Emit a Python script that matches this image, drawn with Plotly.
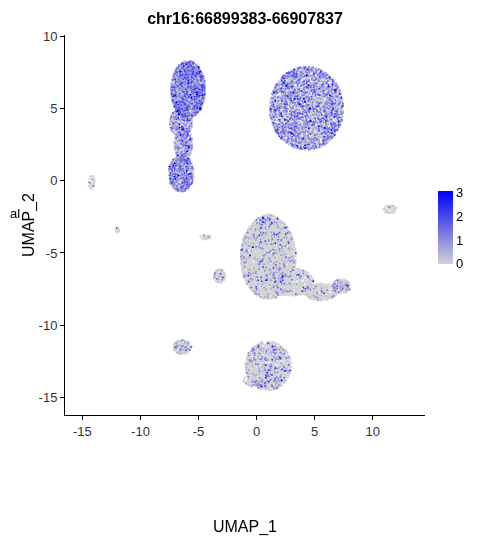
import numpy as np
import plotly.graph_objects as go

title = "chr16:66899383-66907837"
tick_vals = [-15, -10, -5, 0, 5, 10]
tick_text = ["-15", "-10", "-5", "0", "5", "10"]
# blob definitions (UMAP space): centre x, centre y, half-width, half-height, cell count, expressing fraction
blob_cx   = [-5.9, -6.5, -6.3, -6.5, 4.3, 1.0, 2.9, 5.5, 7.3, -3.2, -6.4, 1.0, -14.2, -12.0, -4.4, 11.5, 0.3, 1.0]
blob_cy   = [ 6.3,  4.0,  2.5,  0.5, 5.0, -5.3, -7.0, -7.7, -7.3, -6.6, -11.5, -12.8, -0.1, -3.4, -3.9, -2.0, -13.8, -3.3]
blob_rx   = [ 1.5,  1.0,  0.8,  1.1, 3.2, 2.4,  2.0,  1.5,  0.8,  0.5,  0.8,   2.0,  0.3,  0.2,  0.5,  0.6, 1.5, 1.1]
blob_ry   = [ 2.0,  1.0,  1.2,  1.3, 2.9, 2.9,  1.0,  0.6,  0.5,  0.5,  0.5,   1.7,  0.5,  0.2,  0.2,  0.3, 0.5, 1.0]
blob_n    = [3000, 800, 700, 1200, 5500, 5000, 1100, 550, 300, 220, 300, 1900, 60, 20, 40, 80, 350, 500]
blob_frac = [0.5, 0.3, 0.3, 0.45, 0.4, 0.07, 0.06, 0.06, 0.2, 0.08, 0.12, 0.12, 0.04, 0.04, 0.08, 0.03, 0.08, 0.07]
expr_levels = [0.4, 0.8, 1.2, 1.6, 2.2, 3.1]
expr_weights = [0.3, 0.3, 0.2, 0.12, 0.06, 0.02]

rng = np.random.default_rng(7)
xs, ys, cs = [], [], []
for cx, cy, rx, ry, n, f in zip(blob_cx, blob_cy, blob_rx, blob_ry, blob_n, blob_frac):
    r = np.sqrt(rng.uniform(0, 1, n)); t = rng.uniform(0, 2*np.pi, n)
    xs.append(cx + rx*r*np.cos(t)); ys.append(cy + ry*r*np.sin(t))
    e = np.where(rng.uniform(0, 1, n) < f, rng.choice(expr_levels, n, p=expr_weights), 0.0)
    cs.append(e)
x = np.concatenate(xs); y = np.concatenate(ys); c = np.concatenate(cs)
o = np.argsort(c, kind="stable"); x, y, c = x[o], y[o], c[o]

L, T, W, H = 57, 27, 360, 380
fig = go.Figure(go.Scattergl(
    x=x, y=y, mode="markers",
    marker=dict(size=1.9, color=c, cmin=0, cmax=3.1, line=dict(width=0),
                colorscale=[[0, "lightgrey"], [1, "blue"]],
                colorbar=dict(thickness=15, thicknessmode="pixels", len=73, lenmode="pixels",
                              y=1-(227-35)/380, yanchor="middle", x=(430-L)/W, xanchor="left",
                              xpad=0, ypad=0,
                              tickvals=[0, 1, 2, 3], outlinewidth=0, ticks="",
                              tickfont=dict(size=13, color="black"))),
    showlegend=False))

ax = dict(showgrid=False, zeroline=False, showline=True, linecolor="black", linewidth=1,
          ticks="outside", ticklen=4, tickcolor="black", tickfont=dict(size=13, color="#333"),
          tickvals=tick_vals, ticktext=tick_text, title_font=dict(size=16, color="black"))
fig.update_layout(
    width=478, height=546, paper_bgcolor="white", plot_bgcolor="white",
    font=dict(family="Liberation Sans, Arial"),
    margin=dict(l=L, r=478-L-W, t=T, b=546-T-H, autoexpand=False),
    title=dict(text="<b>"+title+"</b>", x=(245-8)/478, xanchor="center", y=1-(18-8)/546,
               yanchor="middle", font=dict(size=16, color="black")),
    xaxis=dict(ax, range=[-16.5, 14.5], title=dict(text="UMAP_1", standoff=83)),
    yaxis=dict(ax, range=[-16.2, 10.07], title=dict(text="UMAP_2", standoff=0)),
)
fig.add_annotation(text="al", x=-L/W, xanchor="left", xref="paper",
                   y=1-(213-35)/380, yref="paper", showarrow=False,
                   font=dict(size=13, color="black"))
fig.write_html("out.html")
